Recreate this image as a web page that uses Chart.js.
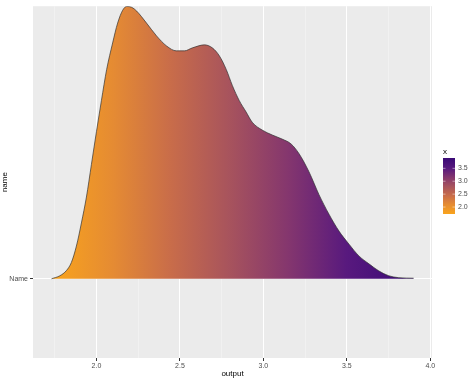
<!DOCTYPE html>
<html>
<head>
<meta charset="utf-8">
<script src="https://cdn.jsdelivr.net/npm/chart.js@4"></script>
<style>
  html, body { margin: 0; padding: 0; background: #fff; }
  #wrap { width: 474px; height: 382px; }
</style>
</head>
<body>
<div id="wrap"><canvas id="ridgeChart" width="474" height="382"></canvas></div>
<script>
// density curve (x = output, y = relative density height)
const outputs = [1.731, 1.781, 1.820, 1.850, 1.880, 1.910, 1.940, 1.970, 2.000, 2.030, 2.061, 2.097, 2.127, 2.157,
    2.181, 2.211, 2.241, 2.300, 2.360, 2.420, 2.479, 2.527, 2.575, 2.647, 2.694, 2.736, 2.778, 2.814, 2.855,
    2.897, 2.933, 2.993, 3.053, 3.112, 3.166, 3.214, 3.273, 3.333, 3.393, 3.453, 3.513, 3.572, 3.632, 3.691,
    3.751, 3.811, 3.900];
const heights = [0, 0.011, 0.030, 0.060, 0.120, 0.205, 0.300, 0.420, 0.540, 0.655, 0.768, 0.866, 0.939, 0.986,
    1.0, 0.997, 0.983, 0.939, 0.892, 0.855, 0.837, 0.837, 0.848, 0.859, 0.848, 0.819, 0.768, 0.710, 0.655,
    0.612, 0.575, 0.546, 0.528, 0.513, 0.495, 0.459, 0.393, 0.309, 0.237, 0.175, 0.127, 0.084, 0.055, 0.029,
    0.011, 0.004, 0.002];

const categories = ['Name'];
const xTicks = [1.75, 2.0, 2.25, 2.5, 2.75, 3.0, 3.25, 3.5, 3.75, 4.0];
const legendTicks = [2.0, 2.5, 3.0, 3.5];

// fill colour scale (by x)
const colorLimits = [1.73, 3.90];
const stopValues = [1.73, 2.1, 2.45, 2.8, 3.15, 3.5, 3.9];
const stopColors = ['#F9A41C', '#E58B33', '#C86C4A', '#A7535D', '#84366E', '#58197E', '#390A76'];

const FONT = '"Liberation Sans", Arial, sans-serif';

function isMajor(v) {
    return Math.abs(v * 2 - Math.round(v * 2)) < 1e-6;
}

function fillGradient(context) {
    const chart = context.chart;
    if (!chart.chartArea) return '#C86C4A';
    const x = chart.scales.x;
    const x0 = x.getPixelForValue(colorLimits[0]);
    const x1 = x.getPixelForValue(colorLimits[1]);
    const g = chart.ctx.createLinearGradient(x0, 0, x1, 0);
    stopValues.forEach((v, i) => {
        g.addColorStop((v - colorLimits[0]) / (colorLimits[1] - colorLimits[0]), stopColors[i]);
    });
    return g;
}

// grey panel behind the plot
const panelBg = {
    id: 'panelBg',
    beforeDraw(chart) {
        const { ctx, chartArea: a } = chart;
        ctx.save();
        ctx.fillStyle = '#EBEBEB';
        ctx.fillRect(a.left, a.top, a.right - a.left, a.bottom - a.top);
        ctx.restore();
    }
};

// colourbar legend on the right
const colorBar = {
    id: 'colorBar',
    afterDraw(chart) {
        const ctx = chart.ctx;
        const left = 443, width = 12, top = 158, bottom = 214;
        ctx.save();
        const g = ctx.createLinearGradient(0, bottom, 0, top);
        stopValues.forEach((v, i) => {
            g.addColorStop((v - colorLimits[0]) / (colorLimits[1] - colorLimits[0]), stopColors[i]);
        });
        ctx.fillStyle = g;
        ctx.fillRect(left, top, width, bottom - top);

        ctx.font = '8px ' + FONT;
        ctx.fillStyle = '#000';
        ctx.textAlign = 'left';
        ctx.textBaseline = 'middle';
        ctx.fillText('x', left, 152);

        ctx.font = '7px ' + FONT;
        ctx.fillStyle = '#4D4D4D';
        ctx.strokeStyle = 'rgba(255,255,255,0.8)';
        ctx.lineWidth = 0.6;
        legendTicks.forEach(v => {
            const y = bottom - (v - colorLimits[0]) / (colorLimits[1] - colorLimits[0]) * (bottom - top);
            ctx.beginPath();
            ctx.moveTo(left, y); ctx.lineTo(left + 2.5, y);
            ctx.moveTo(left + width - 2.5, y); ctx.lineTo(left + width, y);
            ctx.stroke();
            ctx.fillText(v.toFixed(1), left + width + 3, y);
        });
        ctx.restore();
    }
};

const ctx = document.getElementById('ridgeChart').getContext('2d');
const chart = new Chart(ctx, {
    type: 'line',
    data: {
        datasets: [{
            label: categories[0],
            data: outputs.map((v, i) => ({ x: v, y: heights[i] })),
            borderColor: '#333333',
            borderWidth: 0.7,
            backgroundColor: fillGradient,
            fill: 'origin',
            pointRadius: 0,
            cubicInterpolationMode: 'monotone'
        }]
    },
    options: {
        responsive: false,
        animation: false,
        layout: { padding: { top: 3, right: 42, left: 0, bottom: 0 } },
        plugins: {
            legend: { display: false },
            tooltip: { enabled: false }
        },
        scales: {
            x: {
                type: 'linear',
                min: 1.62,
                max: 4.01,
                afterBuildTicks(scale) {
                    scale.ticks = xTicks.map(v => ({ value: v }));
                },
                afterFit(scale) { scale.height = 24; },
                grid: {
                    color: c => isMajor(c.tick.value) ? '#FFFFFF' : 'rgba(255,255,255,0.6)',
                    lineWidth: c => isMajor(c.tick.value) ? 1 : 0.5,
                    tickColor: c => isMajor(c.tick.value) ? '#333333' : 'rgba(0,0,0,0)',
                    tickLength: 3,
                    drawTicks: true
                },
                border: { display: false },
                ticks: {
                    autoSkip: false,
                    maxRotation: 0,
                    padding: 1,
                    color: '#4D4D4D',
                    font: { family: FONT, size: 7 },
                    callback: v => isMajor(v) ? Number(v).toFixed(1) : ''
                },
                title: {
                    display: true,
                    text: 'output',
                    color: '#000',
                    font: { family: FONT, size: 8 },
                    padding: { top: 0, bottom: 3 }
                }
            },
            y: {
                type: 'linear',
                min: -0.291,
                max: 1.001,
                afterBuildTicks(scale) {
                    scale.ticks = [{ value: 0 }];
                },
                afterFit(scale) { scale.width = 33; },
                grid: {
                    color: '#FFFFFF',
                    lineWidth: 1,
                    tickColor: '#333333',
                    tickLength: 3
                },
                border: { display: false },
                ticks: {
                    padding: 2,
                    color: '#4D4D4D',
                    font: { family: FONT, size: 7 },
                    callback: () => categories[0]
                },
                title: {
                    display: true,
                    text: 'name',
                    color: '#000',
                    font: { family: FONT, size: 8 },
                    padding: { top: 0, bottom: 0 }
                }
            }
        }
    },
    plugins: [panelBg, colorBar]
});
</script>
</body>
</html>
